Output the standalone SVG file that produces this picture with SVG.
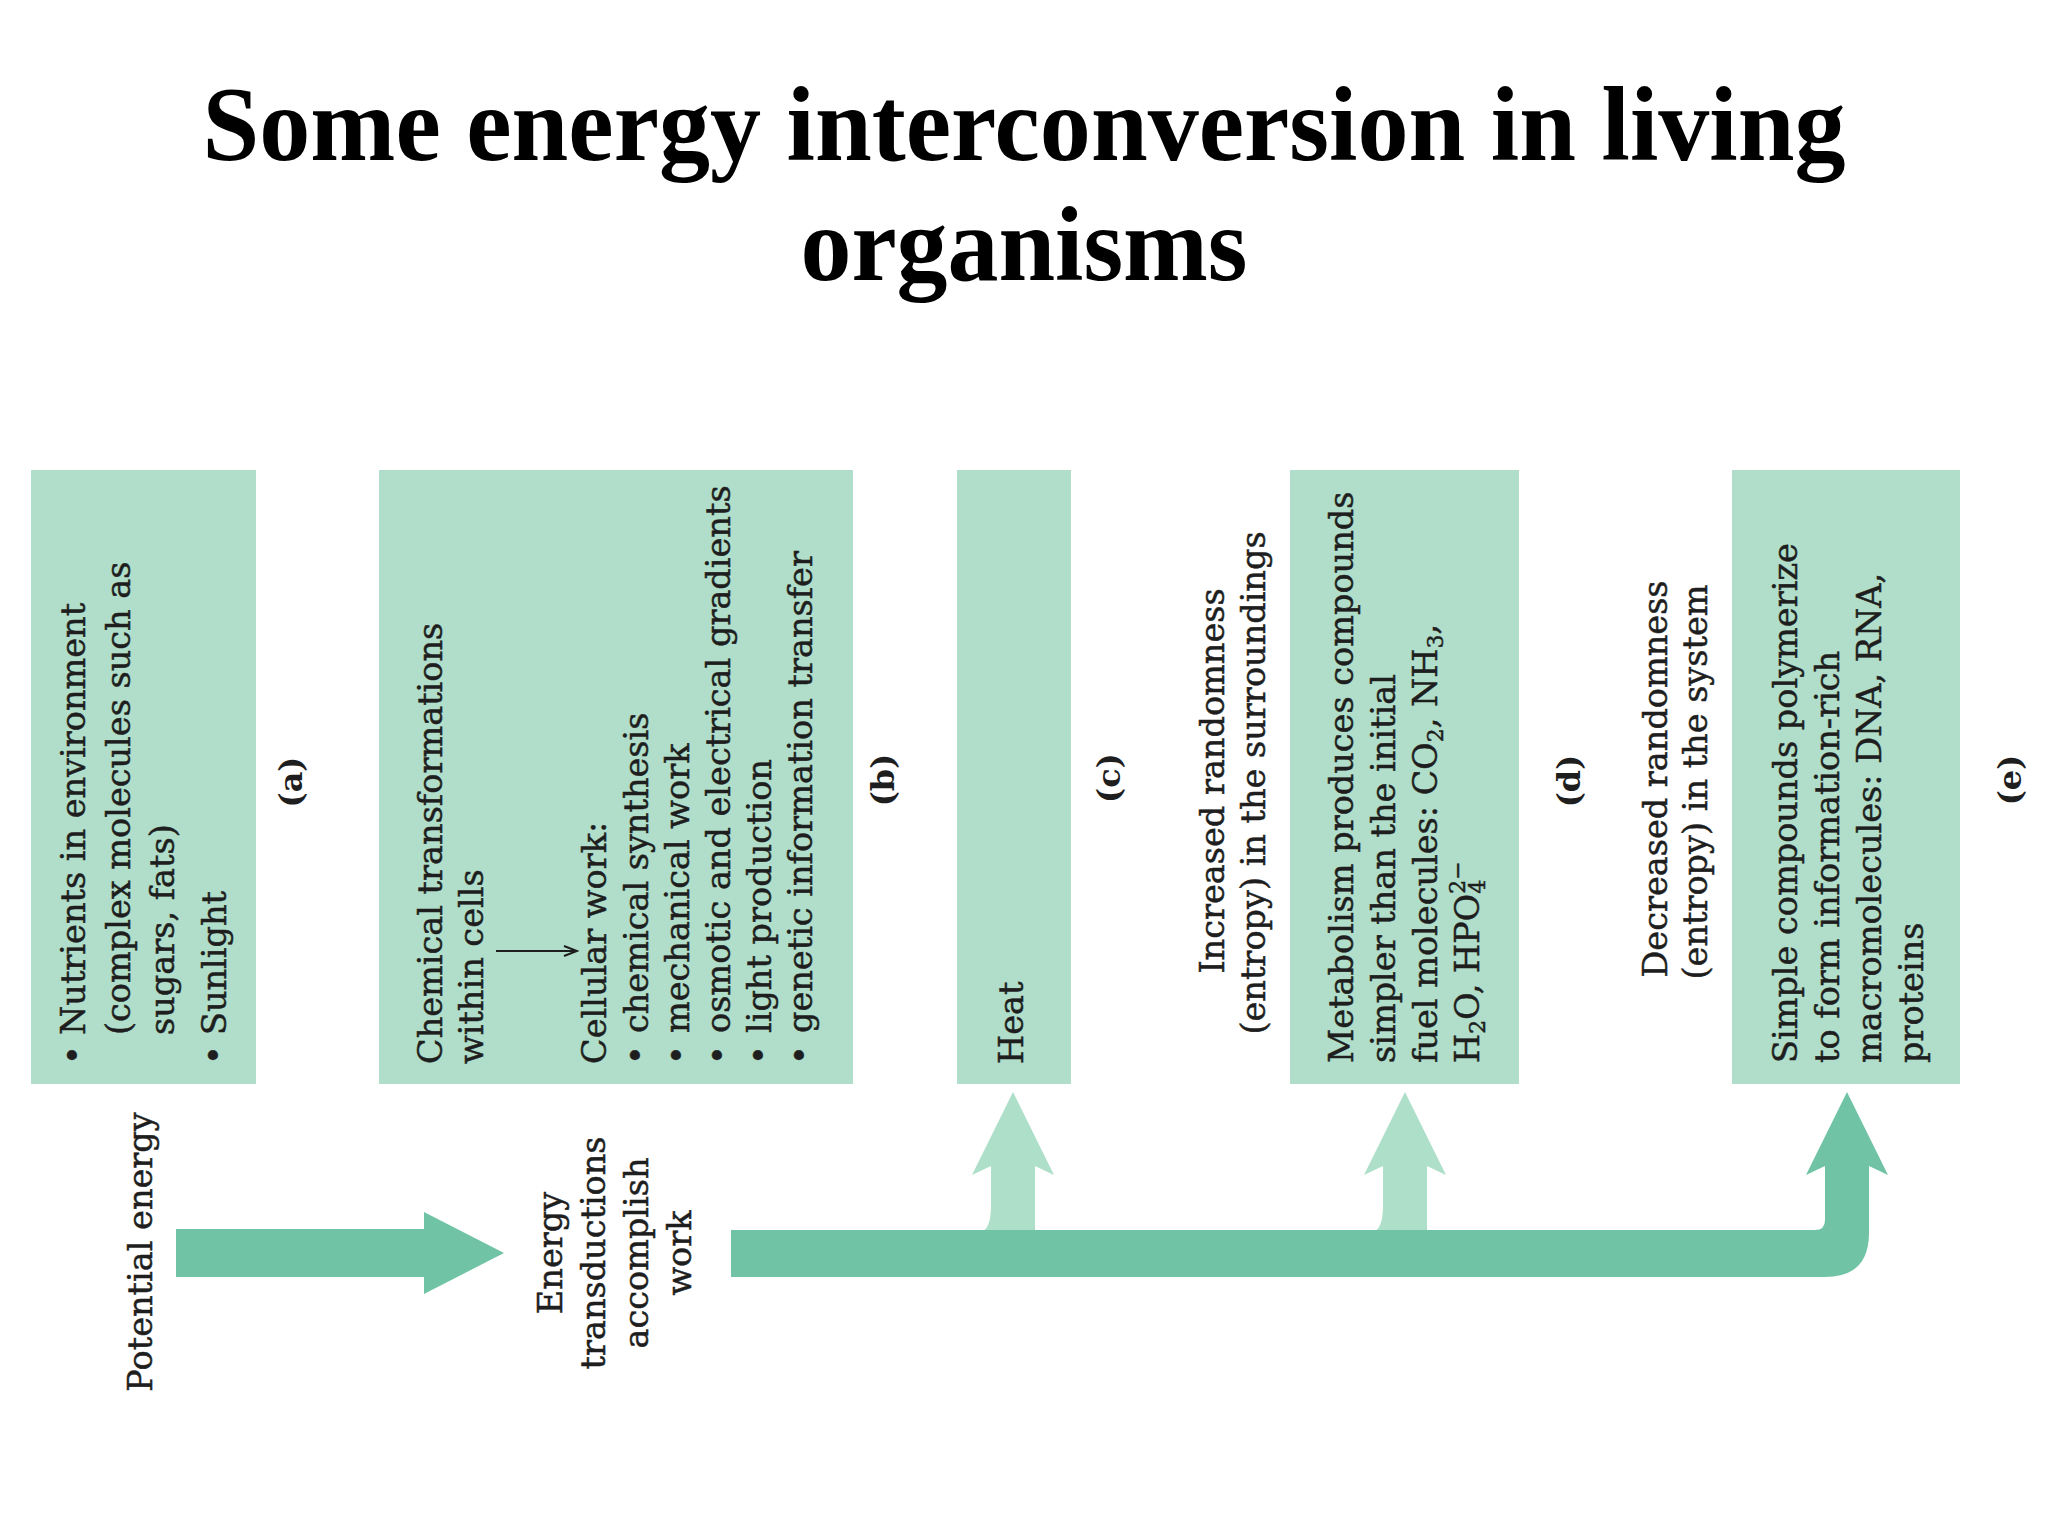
<svg xmlns="http://www.w3.org/2000/svg" width="2048" height="1536" viewBox="0 0 2048 1536">
<defs>
<style>
.box{fill:#b0deca}
.t{font-family:"DejaVu Serif","Liberation Serif",serif;font-size:33.5px;fill:#1e1e1e;stroke:#1e1e1e;stroke-width:0.5px}
.m{text-anchor:middle}
.lab{font-family:"DejaVu Serif","Liberation Serif",serif;font-size:32px;font-weight:bold;fill:#1e1e1e;text-anchor:middle}
.title{font-family:"Liberation Serif","Times New Roman",serif;font-weight:bold;font-size:106px;fill:#000;text-anchor:middle}
.main{fill:#70c4a5}
.light{fill:#aedfc9}
.sub{font-size:22px}
</style>
<marker id="open" markerWidth="16" markerHeight="12" refX="14" refY="6" orient="auto" markerUnits="userSpaceOnUse">
<path d="M1,1 L14,6 L1,11" fill="none" stroke="#1e1e1e" stroke-width="2"/>
</marker>
</defs>
<rect width="2048" height="1536" fill="#fff"/>
<g id="title">
<text class="title" x="1024" y="160" textLength="1643" lengthAdjust="spacingAndGlyphs">Some energy interconversion in living</text>
<text class="title" x="1024" y="280" textLength="447" lengthAdjust="spacingAndGlyphs">organisms</text>
</g>
<g id="connectors">
<path class="light" d="M991,1166 V1205 Q991,1232 979,1232 H1035 V1166 L1054,1175 L1013,1092 L972,1175 Z"/>
<path class="light" d="M1383,1166 V1205 Q1383,1232 1371,1232 H1427 V1166 L1446,1175 L1405,1092 L1364,1175 Z"/>
<path class="main" d="M176,1229 H424 V1212 L504,1253 L424,1294 V1277 H176 Z"/>
<path class="main" d="M731,1230 H1815 Q1825,1230 1825,1220 V1166 L1806,1175 L1847,1092 L1888,1175 L1869,1166 V1233 Q1869,1277 1825,1277 H731 Z"/>
</g>
<g id="node-a">
<rect class="box" x="31" y="470" width="225" height="614"/>
<g transform="rotate(-90)">
<text class="t m" x="-1055" y="85">•</text>
<text class="t" x="-1035" y="85">Nutrients in environment</text>
<text class="t" x="-1035" y="130">(complex molecules such as</text>
<text class="t" x="-1035" y="174">sugars, fats)</text>
<text class="t m" x="-1055" y="226">•</text>
<text class="t" x="-1035" y="226">Sunlight</text>
</g>
</g>
<g id="label-a"><text class="lab" transform="rotate(-90)" x="-782" y="302">(a)</text></g>
<g id="node-b">
<rect class="box" x="379" y="470" width="474" height="614"/>
<line x1="496" y1="951" x2="577" y2="951" stroke="#1e1e1e" stroke-width="2" marker-end="url(#open)"/>
<g transform="rotate(-90)">
<text class="t" x="-1064" y="442">Chemical transformations</text>
<text class="t" x="-1064" y="483">within cells</text>
<text class="t" x="-1064" y="606">Cellular work:</text>
<text class="t m" x="-1055" y="648">•</text>
<text class="t" x="-1033" y="648">chemical synthesis</text>
<text class="t m" x="-1055" y="689">•</text>
<text class="t" x="-1033" y="689">mechanical work</text>
<text class="t m" x="-1055" y="730">•</text>
<text class="t" x="-1033" y="730">osmotic and electrical gradients</text>
<text class="t m" x="-1055" y="771">•</text>
<text class="t" x="-1033" y="771">light production</text>
<text class="t m" x="-1055" y="812">•</text>
<text class="t" x="-1033" y="812">genetic information transfer</text>
</g>
</g>
<g id="label-b"><text class="lab" transform="rotate(-90)" x="-780" y="894">(b)</text></g>
<g id="node-c">
<rect class="box" x="957" y="470" width="114" height="614"/>
<text class="t" transform="rotate(-90)" x="-1064" y="1023">Heat</text>
</g>
<g id="label-c"><text class="lab" transform="rotate(-90)" x="-778" y="1120">(c)</text></g>
<g id="note-c" transform="rotate(-90)">
<text class="t m" x="-781" y="1224">Increased randomness</text>
<text class="t m" x="-783" y="1265">(entropy) in the surroundings</text>
</g>
<g id="node-d">
<rect class="box" x="1290" y="470" width="229" height="614"/>
<g transform="rotate(-90)">
<text class="t" x="-1063" y="1353">Metabolism produces compounds</text>
<text class="t" x="-1063" y="1395">simpler than the initial</text>
<text class="t" x="-1063" y="1437">fuel molecules: CO<tspan class="sub" dy="6">2</tspan><tspan dy="-6">, NH</tspan><tspan class="sub" dy="6">3</tspan><tspan dy="-6">,</tspan></text>
<text class="t" x="-1063" y="1479">H<tspan class="sub" dy="6">2</tspan><tspan dy="-6">O, HPO</tspan><tspan class="sub" dy="6">4</tspan><tspan class="sub" dx="-14" dy="-20">2−</tspan></text>
</g>
</g>
<g id="label-d"><text class="lab" transform="rotate(-90)" x="-781" y="1580">(d)</text></g>
<g id="note-d" transform="rotate(-90)">
<text class="t m" x="-779" y="1667">Decreased randomness</text>
<text class="t m" x="-782" y="1707">(entropy) in the system</text>
</g>
<g id="node-e">
<rect class="box" x="1732" y="470" width="228" height="614"/>
<g transform="rotate(-90)">
<text class="t" x="-1063" y="1797">Simple compounds polymerize</text>
<text class="t" x="-1063" y="1839">to form information-rich</text>
<text class="t" x="-1063" y="1881">macromolecules: DNA, RNA,</text>
<text class="t" x="-1063" y="1923">proteins</text>
</g>
</g>
<g id="label-e"><text class="lab" transform="rotate(-90)" x="-780" y="2021">(e)</text></g>
<g id="note-potential"><text class="t m" transform="rotate(-90)" x="-1252" y="152">Potential energy</text></g>
<g id="note-transduction" transform="rotate(-90)">
<text class="t m" x="-1253" y="562">Energy</text>
<text class="t m" x="-1253" y="605">transductions</text>
<text class="t m" x="-1253" y="648">accomplish</text>
<text class="t m" x="-1253" y="691">work</text>
</g>
</svg>
